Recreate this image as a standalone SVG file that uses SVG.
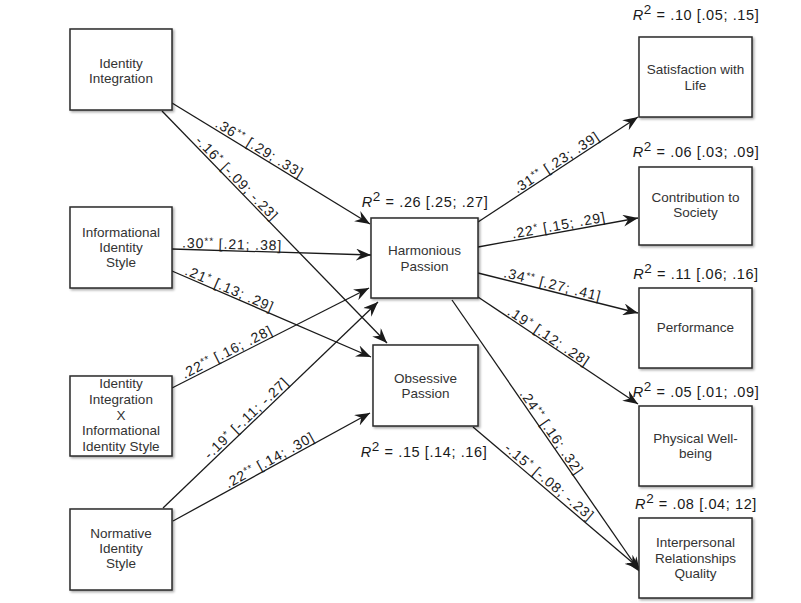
<svg xmlns="http://www.w3.org/2000/svg" width="801" height="603" viewBox="0 0 801 603">
<style>
.box{fill:#fff;stroke:#2a2a2a;stroke-width:1.5;filter:url(#sh)}
.bt{font-family:"Liberation Sans",Arial,sans-serif;font-size:13.5px;fill:#333;text-anchor:middle}
.ln{fill:none;stroke:#1a1a1a;stroke-width:1.3;marker-end:url(#ah)}
.lbl{font-family:"Liberation Sans",Arial,sans-serif;font-size:14px;letter-spacing:0.9px;fill:#1a1a1a;text-anchor:middle}
.sup{font-size:10px}
.r2{font-family:"Liberation Sans",Arial,sans-serif;font-size:14.5px;letter-spacing:0.6px;fill:#1a1a1a;text-anchor:middle}
.it{font-style:italic}
.s2{font-size:13.5px}
</style>
<defs>
<filter id="sh" x="-10%" y="-10%" width="130%" height="130%">
<feDropShadow dx="1.5" dy="1.5" stdDeviation="1" flood-color="#000" flood-opacity="0.35"/>
</filter>
<marker id="ah" markerUnits="userSpaceOnUse" markerWidth="16" markerHeight="12" refX="15" refY="6" orient="auto" viewBox="0 0 16 12">
<path d="M0,0 L15,6 L0,12 L5,6 Z" fill="#1a1a1a"/>
</marker>
</defs>
<rect width="801" height="603" fill="#fff"/>

<g id="connectors">
<line class="ln" x1="172" y1="103" x2="370" y2="224"/>
<line class="ln" x1="162" y1="111" x2="387" y2="343"/>
<line class="ln" x1="172" y1="249" x2="371" y2="255"/>
<line class="ln" x1="172" y1="271" x2="371" y2="357"/>
<line class="ln" x1="172" y1="388" x2="369" y2="288"/>
<line class="ln" x1="163" y1="508" x2="378" y2="302"/>
<line class="ln" x1="173" y1="521" x2="370" y2="413"/>
<line class="ln" x1="478" y1="222" x2="638" y2="117"/>
<line class="ln" x1="478" y1="247" x2="638" y2="218"/>
<line class="ln" x1="478" y1="273" x2="638" y2="313"/>
<line class="ln" x1="478" y1="297" x2="638" y2="404"/>
<line class="ln" x1="452" y1="300" x2="640" y2="572"/>
<line class="ln" x1="473" y1="427" x2="640" y2="569"/>

<text class="lbl" transform="translate(256,154) rotate(31.4)" y="-2">.36<tspan class="sup" dy="-4">**</tspan><tspan dy="4"> [.29; .33]</tspan></text>
<text class="lbl" transform="translate(232,183) rotate(45.9)" y="-2">-.16<tspan class="sup" dy="-4">*</tspan><tspan dy="4"> [-.09; -.23]</tspan></text>
<text class="lbl" transform="translate(232,251) rotate(1.7)" y="-2">.30<tspan class="sup" dy="-4">**</tspan><tspan dy="4"> [.21; .38]</tspan></text>
<text class="lbl" transform="translate(227,295) rotate(23.5)" y="-2">.21<tspan class="sup" dy="-4">*</tspan><tspan dy="4"> [.13; .29]</tspan></text>
<text class="lbl" transform="translate(230,358) rotate(-27)" y="-2">.22<tspan class="sup" dy="-4">**</tspan><tspan dy="4"> [.16; .28]</tspan></text>
<text class="lbl" transform="translate(251,423) rotate(-43.8)" y="-2">-.19<tspan class="sup" dy="-4">*</tspan><tspan dy="4"> [-.11; -.27]</tspan></text>
<text class="lbl" transform="translate(273,466) rotate(-29)" y="-2">.22<tspan class="sup" dy="-4">**</tspan><tspan dy="4"> [.14; .30]</tspan></text>
<text class="lbl" transform="translate(560,168) rotate(-33.4)" y="-2">.31<tspan class="sup" dy="-4">**</tspan><tspan dy="4"> [.23; .39]</tspan></text>
<text class="lbl" transform="translate(560,232) rotate(-10.3)" y="-2">.22<tspan class="sup" dy="-4">*</tspan><tspan dy="4"> [.15; .29]</tspan></text>
<text class="lbl" transform="translate(551,291) rotate(14.1)" y="-2">.34<tspan class="sup" dy="-4">**</tspan><tspan dy="4"> [.27; .41]</tspan></text>
<text class="lbl" transform="translate(545,342) rotate(33.7)" y="-2">.19<tspan class="sup" dy="-4">*</tspan><tspan dy="4"> [.12; .28]</tspan></text>
<text class="lbl" transform="translate(546,436) rotate(55.3)" y="-2">.24<tspan class="sup" dy="-4">**</tspan><tspan dy="4"> [.16; .32]</tspan></text>
<text class="lbl" transform="translate(545,487) rotate(40)" y="-2">-.15<tspan class="sup" dy="-4">*</tspan><tspan dy="4"> [-.08; -.23]</tspan></text>
</g>

<g id="identity-integration">
<rect class="box" x="70" y="29" width="102" height="81"/>
<text class="bt" x="121" y="68">Identity</text>
<text class="bt" x="121" y="83">Integration</text>
</g>
<g id="informational-style">
<rect class="box" x="70" y="207" width="102" height="81"/>
<text class="bt" x="121" y="237">Informational</text>
<text class="bt" x="121" y="252">Identity</text>
<text class="bt" x="121" y="267">Style</text>
</g>
<g id="interaction">
<rect class="box" x="70" y="376" width="102" height="80"/>
<text class="bt" x="121" y="388">Identity</text>
<text class="bt" x="121" y="404">Integration</text>
<text class="bt" x="121" y="419.5">X</text>
<text class="bt" x="121" y="435">Informational</text>
<text class="bt" x="121" y="450.5">Identity Style</text>
</g>
<g id="normative-style">
<rect class="box" x="70" y="509" width="102" height="81"/>
<text class="bt" x="121" y="538">Normative</text>
<text class="bt" x="121" y="553">Identity</text>
<text class="bt" x="121" y="568">Style</text>
</g>
<g id="harmonious-passion">
<rect class="box" x="371" y="218" width="107" height="80"/>
<text class="bt" x="424.5" y="255">Harmonious</text>
<text class="bt" x="424.5" y="271">Passion</text>
<text class="r2" x="425" y="207"><tspan class="it">R</tspan><tspan class="s2" dy="-6">2</tspan><tspan dy="6"> = .26 [.25; .27]</tspan></text>
</g>
<g id="obsessive-passion">
<rect class="box" x="373" y="345" width="105" height="81"/>
<text class="bt" x="425.5" y="383">Obsessive</text>
<text class="bt" x="425.5" y="398">Passion</text>
<text class="r2" x="424" y="457"><tspan class="it">R</tspan><tspan class="s2" dy="-6">2</tspan><tspan dy="6"> = .15 [.14; .16]</tspan></text>
</g>
<g id="satisfaction">
<rect class="box" x="639" y="37" width="113" height="80"/>
<text class="bt" x="695.5" y="74">Satisfaction with</text>
<text class="bt" x="695.5" y="90">Life</text>
<text class="r2" x="696" y="20"><tspan class="it">R</tspan><tspan class="s2" dy="-6">2</tspan><tspan dy="6"> = .10 [.05; .15]</tspan></text>
</g>
<g id="contribution">
<rect class="box" x="639" y="167" width="113" height="78"/>
<text class="bt" x="695.5" y="202">Contribution to</text>
<text class="bt" x="695.5" y="217">Society</text>
<text class="r2" x="696" y="157"><tspan class="it">R</tspan><tspan class="s2" dy="-6">2</tspan><tspan dy="6"> = .06 [.03; .09]</tspan></text>
</g>
<g id="performance">
<rect class="box" x="639" y="288" width="113" height="80"/>
<text class="bt" x="695.5" y="332">Performance</text>
<text class="r2" x="696" y="279"><tspan class="it">R</tspan><tspan class="s2" dy="-6">2</tspan><tspan dy="6"> = .11 [.06; .16]</tspan></text>
</g>
<g id="physical">
<rect class="box" x="639" y="406" width="113" height="80"/>
<text class="bt" x="695.5" y="443">Physical Well-</text>
<text class="bt" x="695.5" y="458">being</text>
<text class="r2" x="696" y="397"><tspan class="it">R</tspan><tspan class="s2" dy="-6">2</tspan><tspan dy="6"> = .05 [.01; .09]</tspan></text>
</g>
<g id="relationships">
<rect class="box" x="639" y="518" width="113" height="80"/>
<text class="bt" x="695.5" y="547">Interpersonal</text>
<text class="bt" x="695.5" y="563">Relationships</text>
<text class="bt" x="695.5" y="578">Quality</text>
<text class="r2" x="696" y="509"><tspan class="it">R</tspan><tspan class="s2" dy="-6">2</tspan><tspan dy="6"> = .08 [.04; 12]</tspan></text>
</g>
</svg>
